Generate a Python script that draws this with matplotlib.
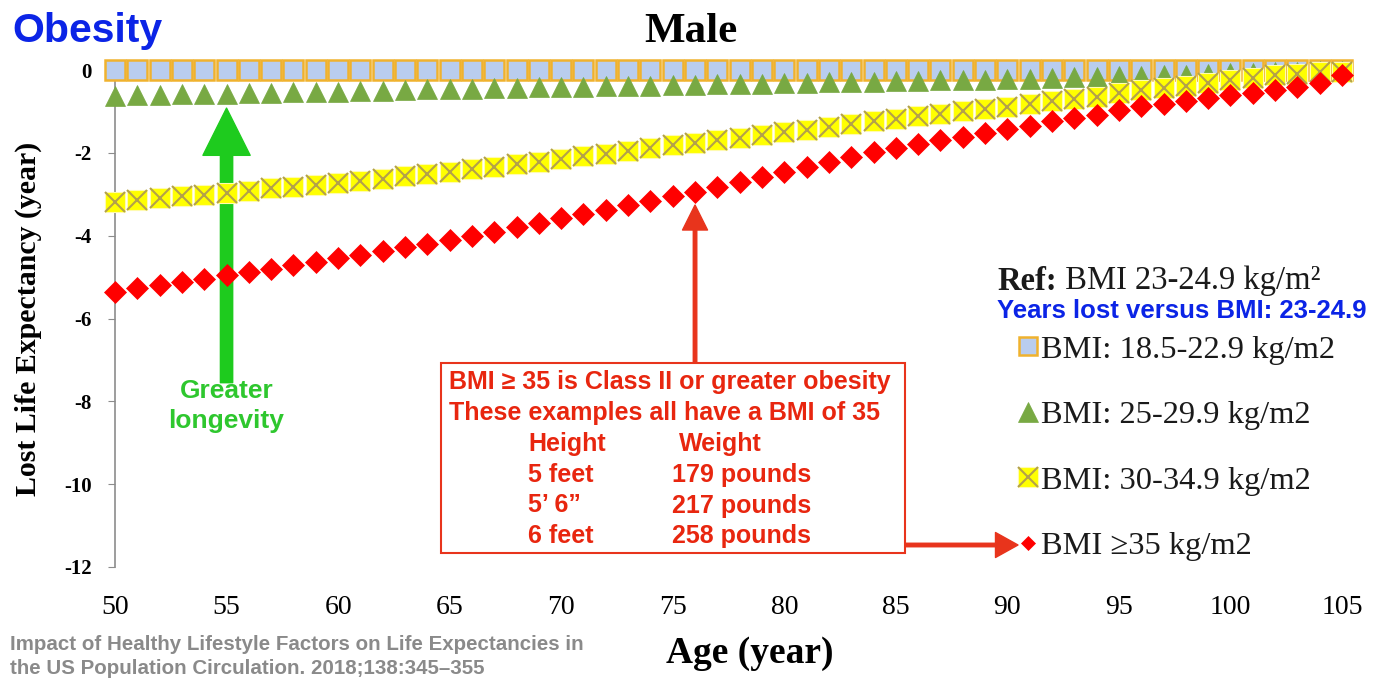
import matplotlib.pyplot as plt
from matplotlib.legend_handler import HandlerTuple
from matplotlib.patches import Rectangle

# ages 50..105, one point per year
ages = list(range(50, 106))

# years of life expectancy lost vs BMI 23-24.9
bmi_18_22 = [0.0, 0.0, 0.0, 0.0, 0.0, 0.0, 0.0, 0.0, 0.0, 0.0, 0.0, 0.0, 0.0, 0.0,
             0.0, 0.0, 0.0, 0.0, 0.0, 0.0, 0.0, 0.0, 0.0, 0.0, 0.0, 0.0, 0.0, 0.0,
             0.0, 0.0, 0.0, 0.0, 0.0, 0.0, 0.0, 0.0, 0.0, 0.0, 0.0, 0.0, 0.0, 0.0,
             0.0, 0.0, 0.0, 0.0, 0.0, 0.0, 0.0, 0.0, 0.0, 0.0, 0.0, 0.0, 0.0, 0.0]
bmi_25_29 = [-0.62, -0.61, -0.60, -0.59, -0.58, -0.57, -0.56, -0.55, -0.54, -0.53,
             -0.52, -0.51, -0.50, -0.48, -0.47, -0.46, -0.45, -0.44, -0.43, -0.42,
             -0.41, -0.40, -0.39, -0.38, -0.38, -0.37, -0.36, -0.35, -0.34, -0.33,
             -0.32, -0.31, -0.30, -0.29, -0.28, -0.27, -0.26, -0.25, -0.24, -0.23,
             -0.22, -0.21, -0.20, -0.18, -0.17, -0.15, -0.14, -0.12, -0.11, -0.09,
             -0.08, -0.07, -0.05, -0.04, -0.03, -0.02]
bmi_30_34 = [-3.18, -3.14, -3.10, -3.05, -3.01, -2.96, -2.91, -2.86, -2.82, -2.77,
             -2.72, -2.67, -2.62, -2.57, -2.51, -2.46, -2.40, -2.34, -2.27, -2.21,
             -2.14, -2.08, -2.02, -1.95, -1.89, -1.82, -1.76, -1.69, -1.63, -1.56,
             -1.50, -1.44, -1.37, -1.31, -1.24, -1.18, -1.12, -1.06, -1.00, -0.95,
             -0.90, -0.82, -0.76, -0.70, -0.64, -0.56, -0.49, -0.44, -0.39, -0.32,
             -0.24, -0.19, -0.13, -0.09, -0.06, -0.05]
bmi_35 = [-5.35, -5.27, -5.19, -5.11, -5.04, -4.96, -4.88, -4.80, -4.71, -4.63,
          -4.55, -4.46, -4.37, -4.28, -4.19, -4.10, -4.00, -3.90, -3.80, -3.70,
          -3.58, -3.48, -3.38, -3.27, -3.16, -3.05, -2.94, -2.82, -2.70, -2.58,
          -2.46, -2.34, -2.22, -2.10, -1.98, -1.88, -1.79, -1.70, -1.61, -1.52,
          -1.42, -1.35, -1.24, -1.16, -1.08, -0.97, -0.88, -0.82, -0.75, -0.68,
          -0.60, -0.56, -0.48, -0.41, -0.31, -0.12]

labels = ['BMI: 18.5-22.9 kg/m2', 'BMI: 25-29.9 kg/m2',
          'BMI: 30-34.9 kg/m2', 'BMI \u226535 kg/m2']
x_ticks = [50, 55, 60, 65, 70, 75, 80, 85, 90, 95, 100, 105]
y_ticks = [0, -2, -4, -6, -8, -10, -12]

heights = ['5 feet', '5\u2019 6\u201d', '6 feet']
weights = ['179 pounds', '217 pounds', '258 pounds']

SERIF = ['Liberation Serif', 'DejaVu Serif']
SANS = ['Liberation Sans', 'DejaVu Sans']
RED = '#e8260f'
BLUE = '#0b24e6'

plt.rcParams['axes.unicode_minus'] = False

W, H = 1400, 687
def fx(x):
    return x / W
def fy(y):
    return 1 - y / H

fig = plt.figure(figsize=(14, 6.87), dpi=100)
ax = fig.add_axes([fx(115), fy(567), fx(1342) - fx(115), fy(70) - fy(567)])

h1, = ax.plot(ages, bmi_18_22, ls='none', marker='s', ms=14, mfc='#b9cdee',
              mec='#f0b22e', mew=1.8, clip_on=False, zorder=3)
h2, = ax.plot(ages, bmi_25_29, ls='none', marker='^', ms=15, mfc='#78a943',
              mec='#78a943', mew=0.5, clip_on=False, zorder=4)
h3a, = ax.plot(ages, bmi_30_34, ls='none', marker='s', ms=15, mfc='#ffff00',
               mec='#fffbb0', mew=0.8, clip_on=False, zorder=5)
h3b, = ax.plot(ages, bmi_30_34, ls='none', marker='x', ms=14, mec='#b3a14a',
               mew=1.5, clip_on=False, zorder=5)
h4, = ax.plot(ages, bmi_35, ls='none', marker='D', ms=11, mfc='#ff0000',
              mec='#ff0000', mew=0.5, clip_on=False, zorder=6)

ax.set_xlim(50, 105)
ax.set_ylim(-12, 0)
ax.set_xticks(x_ticks)
ax.set_xticklabels([str(t) for t in x_ticks], family=SERIF, fontsize=20)
ax.set_yticks(y_ticks)
ax.set_yticklabels([str(t) for t in y_ticks], family=SERIF, fontsize=15,
                   fontweight='bold')
ax.tick_params(axis='x', length=0, pad=20)
ax.tick_params(axis='y', length=5, color='#8c8c8c', pad=12)
for s in ['top', 'right', 'bottom']:
    ax.spines[s].set_visible(False)
ax.spines['left'].set_color('#8c8c8c')
ax.spines['left'].set_linewidth(1.2)

ax.set_xlabel('Age (year)', family=SERIF, fontsize=27, fontweight='bold')
ax.xaxis.set_label_coords((750 - 115) / (1342 - 115), -(636 - 567) / (567 - 70))
ax.set_ylabel('Lost Life Expectancy (year)', family=SERIF, fontsize=21.5,
              fontweight='bold')
ax.yaxis.set_label_coords(-(115 - 42) / (1342 - 115), 0.5)

# titles and source
fig.text(fx(691), fy(32), 'Male', ha='center', va='center', family=SERIF,
         fontsize=31, fontweight='bold')
fig.text(fx(12), fy(31), 'Obesity', ha='left', va='center', family=SANS,
         fontsize=29.5, fontweight='bold', color=BLUE)
fig.text(fx(10), fy(645), 'Impact of Healthy Lifestyle Factors on Life Expectancies in',
         ha='left', va='center', family=SANS, fontsize=14.8, fontweight='bold',
         color='#8a8a8a')
fig.text(fx(10), fy(669), 'the US Population Circulation. 2018;138:345\u2013355',
         ha='left', va='center', family=SANS, fontsize=14.8, fontweight='bold',
         color='#8a8a8a')

# legend block
ref = fig.text(fx(997), fy(281), 'Ref:', ha='left', va='center', family=SERIF,
               fontsize=23.5, fontweight='bold', color='#1a1a1a')
ax.annotate(' BMI 23-24.9 kg/m\u00b2', xy=(1, 0), xycoords=ref, ha='left',
            va='bottom', family=SERIF, fontsize=23.5, color='#1a1a1a')
fig.text(fx(997), fy(311), 'Years lost versus BMI: 23-24.9', ha='left',
         va='center', family=SANS, fontsize=18.5, fontweight='bold', color=BLUE)

leg = ax.legend([h1, h2, (h3a, h3b), h4], labels,
                handler_map={tuple: HandlerTuple(ndivide=1)},
                loc='upper left', bbox_to_anchor=(fx(1019), fy(335)),
                bbox_transform=fig.transFigure, frameon=False,
                prop={'family': SERIF, 'size': 23.4}, handlelength=0.55,
                handletextpad=0.12, labelspacing=1.1, borderpad=0,
                borderaxespad=0)
for t in leg.get_texts():
    t.set_color('#1a1a1a')
leg.legend_handles[0].set_markersize(13)
leg.legend_handles[3].set_markersize(7)

# green arrow
ax.annotate('', xy=(55, -0.92), xytext=(55, -7.55),
            arrowprops=dict(arrowstyle='simple,head_length=0.5,head_width=0.5,tail_width=0.13',
                            mutation_scale=68, fc='#1ecb1e', ec='#1ecb1e',
                            shrinkA=0, shrinkB=0))
ax.text(55, -8.12, 'Greater\nlongevity', ha='center', va='center', family=SANS,
        fontsize=19, fontweight='bold', color='#2ec72e', linespacing=1.3)

# red box with notes
fig.add_artist(Rectangle((fx(441), fy(553)), fx(905) - fx(441), fy(363) - fy(553),
                         transform=fig.transFigure, fill=False, ec='#e8341c', lw=1.5))
note_kw = dict(ha='left', va='center', family=SANS, fontsize=18,
               fontweight='bold', color=RED)
fig.text(fx(449), fy(382), 'BMI \u2265 35 is Class II or greater obesity', **note_kw)
fig.text(fx(449), fy(413), 'These examples all have a BMI of 35', **note_kw)
fig.text(fx(528), fy(444), 'Height', **note_kw)
fig.text(fx(679), fy(444), 'Weight', **note_kw)
for i in range(3):
    fig.text(fx(528), fy(475 + 30.5 * i), heights[i], **note_kw)
    fig.text(fx(672), fy(475 + 30.5 * i), weights[i], **note_kw)

ax.annotate('', xy=(76, -3.26), xytext=(76, -7.07),
            arrowprops=dict(arrowstyle='simple,head_length=0.5,head_width=0.5,tail_width=0.07',
                            mutation_scale=36, fc='#e8341c', ec='#e8341c',
                            shrinkA=0, shrinkB=0))
ax.annotate('', xy=(fx(1018), fy(545)), xycoords='figure fraction',
            xytext=(fx(905), fy(545)), textcoords='figure fraction',
            arrowprops=dict(arrowstyle='simple,head_length=0.45,head_width=0.5,tail_width=0.07',
                            mutation_scale=36, fc='#e8341c', ec='#e8341c',
                            shrinkA=0, shrinkB=0),
            annotation_clip=False)

fig.savefig('out.png', dpi=100)
